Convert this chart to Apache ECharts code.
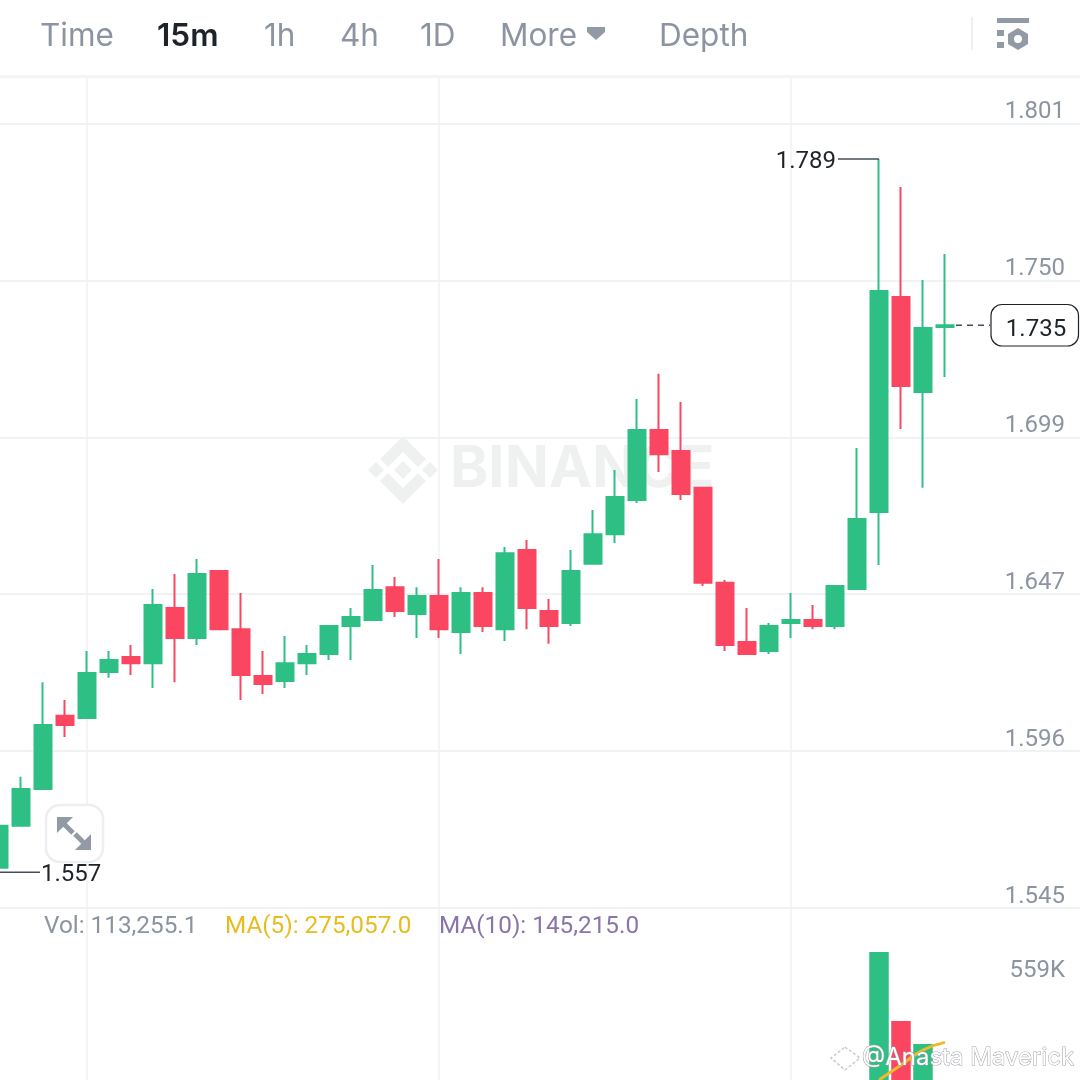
<!DOCTYPE html>
<html>
<head>
    <meta charset="utf-8">
    <title>15m chart</title>
    <script src="https://cdn.jsdelivr.net/npm/echarts@6/dist/echarts.min.js"></script>
    <style>
        html, body { margin: 0; padding: 0; background: #fff; }
        #main { width: 1080px; height: 1080px; }
    </style>
</head>
<body>
<div id="main"></div>
<script>
// values
var opens  = [1.5581, 1.5718, 1.5838, 1.6077, 1.6070, 1.6220, 1.6269, 1.6249, 1.6429, 1.6331, 1.6550, 1.6360, 1.6207, 1.6191, 1.6249, 1.6279, 1.6370, 1.6390, 1.6497, 1.6409, 1.6468, 1.6351, 1.6478, 1.6360, 1.6618, 1.6419, 1.6380, 1.6573, 1.6670, 1.6781, 1.7010, 1.6941, 1.6821, 1.6511, 1.6318, 1.6289, 1.6380, 1.6390, 1.6370, 1.6491, 1.6742, 1.7444, 1.7134, 1.7346];
var closes = [1.5718, 1.5838, 1.6047, 1.6047, 1.6217, 1.6259, 1.6249, 1.6439, 1.6331, 1.6540, 1.6360, 1.6210, 1.6181, 1.6249, 1.6279, 1.6370, 1.6400, 1.6488, 1.6419, 1.6468, 1.6360, 1.6478, 1.6370, 1.6608, 1.6429, 1.6370, 1.6550, 1.6670, 1.6791, 1.7010, 1.6931, 1.6801, 1.6511, 1.6308, 1.6279, 1.6370, 1.6390, 1.6370, 1.6501, 1.6719, 1.7463, 1.7153, 1.7343, 1.7352];
var lows   = [1.5567, 1.5718, 1.5838, 1.6008, 1.6070, 1.6201, 1.6210, 1.6168, 1.6187, 1.6308, 1.6360, 1.6129, 1.6148, 1.6168, 1.6210, 1.6259, 1.6259, 1.6390, 1.6400, 1.6331, 1.6331, 1.6279, 1.6351, 1.6321, 1.6360, 1.6312, 1.6370, 1.6573, 1.6641, 1.6772, 1.6873, 1.6781, 1.6501, 1.6289, 1.6279, 1.6279, 1.6331, 1.6360, 1.6360, 1.6491, 1.6569, 1.7013, 1.6821, 1.7183];
var highs  = [1.5809, 1.5878, 1.6187, 1.6129, 1.6289, 1.6289, 1.6308, 1.6491, 1.6540, 1.6589, 1.6550, 1.6478, 1.6289, 1.6338, 1.6308, 1.6370, 1.6429, 1.6569, 1.6530, 1.6497, 1.6589, 1.6497, 1.6497, 1.6628, 1.6651, 1.6458, 1.6618, 1.6749, 1.6879, 1.7111, 1.7193, 1.7101, 1.6821, 1.6520, 1.6429, 1.6380, 1.6478, 1.6439, 1.6501, 1.6951, 1.7894, 1.7803, 1.7499, 1.7584];
var priceTicks = [1.545, 1.5962, 1.6474, 1.6986, 1.7498, 1.801];

// only the last bars and the MA(5) line reach into the visible part of the pane
var volumes = { 40: 559000, 41: 342000, 42: 270000, 43: 113255.1 };
var ma5 = { 40: 157000, 41: 204000, 42: 251000, 43: 275057 };
var volTicks = [559000];

var tabs = ['Time', '15m', '1h', '4h', '1D', 'More', 'Depth'];
var lowLabel = '1.557', highLabel = '1.789', lastLabel = '1.735';

var GREEN = '#2ebf85', RED = '#fb4661', GRID = '#f0f2f4', GRAY = '#8c94a1', DARK = '#1e2329';
var FONT = 'Inter, Roboto, sans-serif';
var NUM_FONT = 'Roboto, Inter, sans-serif';

var cats = opens.map(function (v, i) { return 'c' + i; });
var totalCats = 50;
while (cats.length < totalCats) cats.push('c' + cats.length);

var candleData = opens.map(function (v, i) { return [opens[i], closes[i], lows[i], highs[i]]; });
var volData = cats.map(function (c, i) {
    if (volumes[i] === undefined) return null;
    return { value: volumes[i], itemStyle: { color: closes[i] >= opens[i] ? GREEN : RED } };
});
var ma5Data = cats.map(function (c, i) { return ma5[i] === undefined ? null : ma5[i]; });

function vLines() {
    return {
        show: true,
        alignWithLabel: true,
        interval: function (i) { return i % 16 === 4; },
        lineStyle: { color: '#eff0f5', width: 1.5 }
    };
}

var chart = echarts.init(document.getElementById('main'));

chart.setOption({
    animation: false,
    backgroundColor: '#fff',
    textStyle: { fontFamily: NUM_FONT },
    grid: [
        { left: -12, width: 1100, top: 76, height: 832, outerBoundsMode: 'none' },
        { left: -12, width: 1100, top: 908, height: 172, outerBoundsMode: 'none' }
    ],
    xAxis: [
        { type: 'category', gridIndex: 0, data: cats, axisLine: { show: false }, axisTick: { show: false }, axisLabel: { show: false }, splitLine: vLines() },
        { type: 'category', gridIndex: 1, data: cats, axisLine: { show: false }, axisTick: { show: false }, axisLabel: { show: false }, splitLine: vLines() }
    ],
    yAxis: [{
        type: 'value',
        gridIndex: 0,
        position: 'right',
        min: 1.545,
        max: 1.8165,
        axisLine: { show: false },
        axisTick: { show: false, customValues: priceTicks },
        axisLabel: {
            inside: true,
            margin: 23,
            customValues: priceTicks,
            verticalAlign: 'bottom',
            lineHeight: 22,
            color: GRAY,
            fontSize: 24,
            fontFamily: NUM_FONT,
            formatter: function (v) { return v.toFixed(3); }
        },
        splitLine: { show: true, lineStyle: { color: GRID, width: 2 } }
    }, {
        type: 'value',
        gridIndex: 1,
        position: 'right',
        min: 157000,
        max: 697000,
        axisLine: { show: false },
        axisTick: { show: false },
        axisLabel: {
            inside: true,
            margin: 23,
            customValues: volTicks,
            verticalAlign: 'top',
            padding: [7, 0, 0, 0],
            color: GRAY,
            fontSize: 24,
            fontFamily: NUM_FONT,
            formatter: function (v) { return Math.round(v / 1000) + 'K'; }
        },
        splitLine: { show: false }
    }],
    series: [{
        type: 'candlestick',
        xAxisIndex: 0,
        yAxisIndex: 0,
        data: candleData,
        barWidth: 17.5,
        itemStyle: { color: GREEN, color0: RED, borderColor: GREEN, borderColor0: RED, borderWidth: 2 }
    }, {
        type: 'bar',
        xAxisIndex: 1,
        yAxisIndex: 1,
        data: volData,
        barWidth: 19.5,
        clip: true
    }, {
        type: 'line',
        xAxisIndex: 1,
        yAxisIndex: 1,
        data: ma5Data,
        symbol: 'none',
        smooth: true,
        clip: true,
        connectNulls: false,
        lineStyle: { color: '#eebb2c', width: 3 }
    }]
});

// overlays: annotations sit on the candles they belong to
function px(i, v) { return chart.convertToPixel({ gridIndex: 0 }, [i, v]); }

var lowPt = px(0, lows[0]), highPt = px(40, highs[40]), lastPt = px(43, closes[43]);
var ICON = '#929aa5';

function txt(x, y, s, color, size, extra) {
    var family = extra && extra.family || NUM_FONT;
    var style = { x: x, y: y, text: s, fill: color, font: (extra && extra.weight || 'normal') + ' ' + size + 'px ' + family, textVerticalAlign: 'middle', textAlign: extra && extra.align || 'left' };
    return { type: 'text', z: 50, silent: true, style: style };
}
function poly(points, fill, z) {
    return { type: 'polygon', z: z || 50, silent: true, shape: { points: points }, style: { fill: fill } };
}
function rect(x, y, w, h, fill, z) {
    return { type: 'rect', z: z || 50, silent: true, shape: { x: x, y: y, width: w, height: h }, style: { fill: fill } };
}
function line(x1, y1, x2, y2, stroke, w, dash) {
    return { type: 'line', z: 50, silent: true, shape: { x1: x1, y1: y1, x2: x2, y2: y2 }, style: { stroke: stroke, lineWidth: w, lineDash: dash || null } };
}

var tabX = [40, 157, 264, 340, 420, 500, 659];
var els = [];
tabs.forEach(function (t, i) {
    els.push(txt(tabX[i], 37, t, i === 1 ? DARK : GRAY, 31.5, i === 1 ? { weight: '600', family: FONT } : { family: FONT }));
});
els.push(poly([[587, 27], [605, 27], [605, 32], [596, 40], [587, 32]], ICON));
els.push(rect(971, 17, 2, 33, '#eef0f2'));
els.push(rect(997, 18, 32, 5, ICON));
els.push(rect(997, 30, 7, 6, ICON));
els.push(rect(997, 42, 7, 6, ICON));
els.push(poly([[1018, 28], [1028, 34], [1028, 44], [1018, 50], [1008, 44], [1008, 34]], ICON));
els.push({ type: 'circle', z: 51, silent: true, shape: { cx: 1018, cy: 39, r: 4 }, style: { fill: '#fff' } });
els.push(rect(0, 75, 1080, 3, '#f3f5f5', 3));

// faint exchange mark behind the candles
var mark = '#eff1f1', cx = 403, cy = 470;
[[0, 0, 9], [-27, 0, 8], [27, 0, 8]].forEach(function (d) {
    els.push(poly([[cx + d[0], cy - d[2]], [cx + d[0] + d[2], cy], [cx + d[0], cy + d[2]], [cx + d[0] - d[2], cy]], mark, -1));
});
[-1, 1].forEach(function (s) {
    els.push(poly([[cx, cy + s * 34], [cx + 23, cy + s * 11], [cx + 15, cy + s * 3], [cx, cy + s * 18], [cx - 15, cy + s * 3], [cx - 23, cy + s * 11]], mark, -1));
});
els.push({ type: 'text', z: -1, silent: true, style: { x: 450, y: 470, text: 'BINANCE', fill: mark, font: 'bold 58px ' + FONT, textVerticalAlign: 'middle' } });

// low / high / last annotations
els.push(line(0, lowPt[1], 40, lowPt[1], '#474d57', 1.5));
els.push(txt(41, lowPt[1] + 3, lowLabel, DARK, 24));
els.push(line(838, highPt[1], highPt[0], highPt[1], '#474d57', 1.5));
els.push(txt(836, highPt[1] + 3, highLabel, DARK, 24, { align: 'right' }));
els.push(line(lastPt[0] + 11, lastPt[1], 990, lastPt[1], '#474d57', 1.5, [6, 5]));
els.push({ type: 'rect', z: 50, silent: true, shape: { x: 991, y: 304.5, width: 87.5, height: 41.5, r: 11 }, style: { fill: '#fff', stroke: DARK, lineWidth: 1.2 } });
els.push(txt(1036, 330, lastLabel, DARK, 24, { align: 'center' }));

// expand button
els.push({ type: 'rect', z: 50, silent: true, shape: { x: 46, y: 805, width: 57, height: 57, r: 14 }, style: { fill: '#fff', stroke: '#eceef1', lineWidth: 2.5 } });
els.push(poly([[57, 817], [73, 817], [57, 833]], ICON, 51));
els.push(line(63, 823, 73, 833, ICON, 5));
els.push(poly([[91, 850], [75, 850], [91, 834]], ICON, 51));
els.push(line(85, 844, 75, 834, ICON, 5));

// volume legend
els.push(txt(44, 927, 'Vol: 113,255.1', GRAY, 24.3));
els.push(txt(225, 927, 'MA(5): 275,057.0', '#e8bc1f', 24.3));
els.push(txt(439, 927, 'MA(10): 145,215.0', '#8a75ab', 24.3));

// uploader watermark
els.push({ type: 'polygon', z: 60, silent: true, shape: { points: [[845, 1047], [860, 1058], [845, 1070], [831, 1058]] }, style: { fill: 'none', stroke: '#c8ccd0', lineWidth: 1.5, lineDash: [3, 2] } });
els.push({ type: 'text', z: 60, silent: true, style: { x: 862, y: 1058, text: '@Anasta Maverick', fill: '#fff', font: '24px ' + FONT, textVerticalAlign: 'middle', stroke: '#9a9ea4', lineWidth: 1 } });

chart.setOption({ graphic: { elements: els } });
</script>
</body>
</html>
